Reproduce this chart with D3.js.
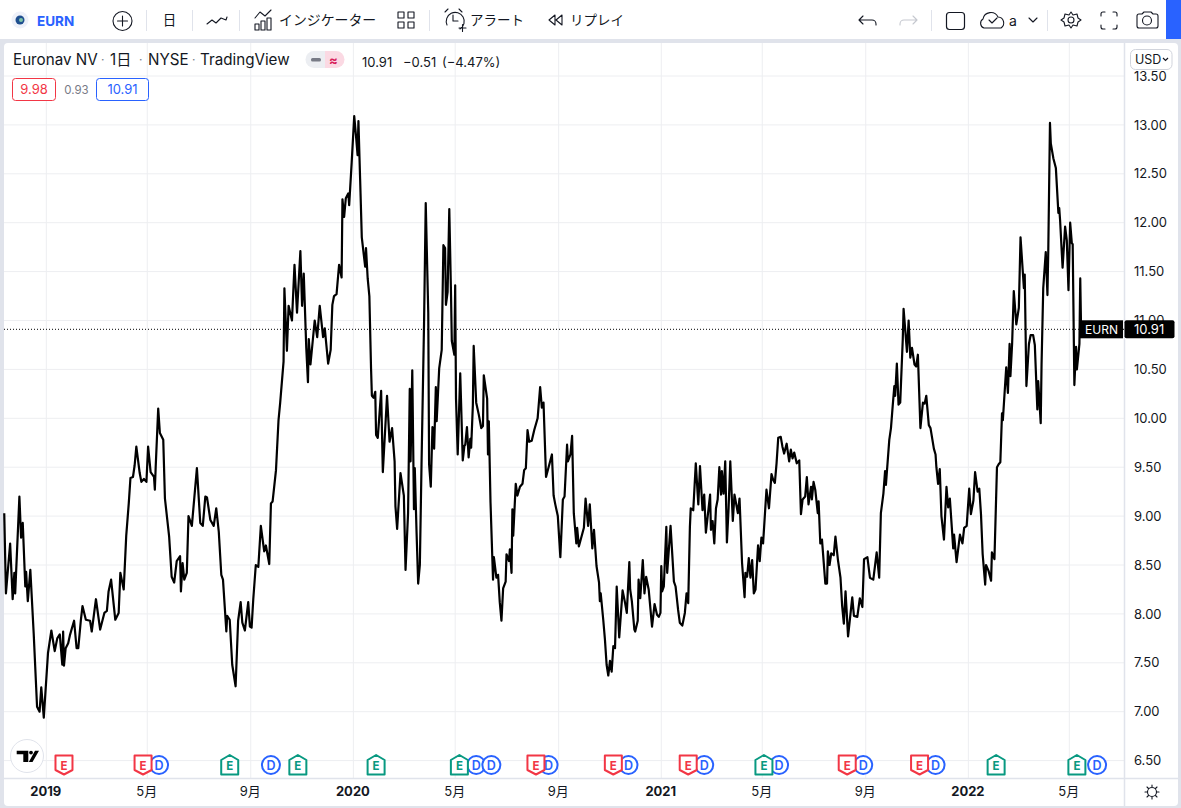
<!DOCTYPE html>
<html>
<head>
<meta charset="utf-8">
<script src="https://cdn.jsdelivr.net/npm/d3@7"></script>
<style>
    html, body { margin: 0; padding: 0; background: #e0e3eb; }
    svg { display: block; font-family: Inter, "Noto Sans CJK JP", sans-serif; }
</style>
</head>
<body>
<svg id="chart" width="1181" height="808"></svg>
<script>
// [calendar days since 2019-01-01, close]
const closeByDay = [
    [-50,9.03],[-48,8.21],[-43,8.72],[-40,8.15],[-38,8.42],[-37,8.21],[-32,9.2],[-30,8.78],[-28,8.93],[-25,8.28],[-24,8.43],[-22,8.13],[-19,8.45],[-15,7.8],[-11,7.05],[-8,7.0],[-6,7.25],[-3,6.94],
    [2,7.6],[6,7.83],[10,7.62],[13,7.75],[16,7.79],[19,7.48],[20,7.82],[21,7.47],[23,7.65],[26,7.7],[28,7.78],[33,7.93],[36,7.65],[38,7.65],[41,7.93],[43,8.08],[47,7.94],[52,7.93],[54,7.82],[59,8.15],
    [64,7.84],[69,8.01],[72,8.03],[74,8.23],[77,8.35],[82,7.94],[86,8.01],[88,8.42],[92,8.25],[95,8.8],[98,9.13],[100,9.39],[103,9.4],[105,9.52],[107,9.71],[111,9.44],[113,9.35],[116,9.38],[119,9.35],
    [121,9.71],[124,9.45],[128,9.4],[129,9.27],[130,9.5],[133,10.1],[135,9.85],[139,9.78],[141,9.18],[146,8.79],[149,8.38],[152,8.32],[155,8.54],[159,8.59],[160,8.23],[162,8.52],[164,8.35],[167,8.42],
    [169,9.0],[173,8.9],[179,9.49],[183,8.93],[186,8.9],[189,9.2],[191,9.19],[195,8.96],[199,8.9],[202,9.08],[205,8.84],[208,8.4],[210,8.35],[214,7.82],[215,7.98],[218,7.94],[221,7.48],[225,7.26],
    [228,7.93],[231,8.12],[233,7.91],[236,7.83],[240,8.12],[242,7.87],[244,7.86],[246,8.15],[249,8.5],[252,8.48],[255,8.9],[259,8.64],[261,8.7],[265,8.51],[267,9.13],[269,9.15],[273,9.47],[276,9.98],
    [278,10.16],[282,10.58],[283,11.33],[286,10.69],[288,11.15],[292,11.0],[295,11.57],[298,11.08],[302,11.71],[304,11.15],[306,11.48],[309,10.72],[311,10.37],[312,10.81],[314,10.55],[319,11.0],[322,10.83],
    [325,11.15],[329,10.83],[331,10.92],[335,10.56],[338,10.7],[340,11.16],[342,11.25],[345,11.27],[348,11.57],[351,11.44],[352,12.24],[354,12.06],[356,12.25],[359,12.3],[360,12.18],[363,12.62],[366,13.09],
    [368,12.9],[370,12.69],[371,13.04],[373,12.45],[375,11.85],[379,11.55],[380,11.74],[382,11.43],[384,11.25],[386,10.51],[387,10.23],[389,10.21],[391,10.27],[392,9.83],[394,9.8],[398,10.28],[400,9.45],
    [405,10.23],[408,9.76],[411,9.9],[414,9.56],[415,9.1],[417,8.87],[421,9.44],[425,9.21],[427,8.45],[430,9.03],[432,10.3],[433,9.56],[435,10.49],[437,9.07],[438,9.49],[440,8.86],[442,8.31],[444,8.5],
    [446,9.53],[449,10.97],[451,12.2],[454,11.08],[455,9.53],[457,9.3],[459,9.91],[461,9.69],[463,10.32],[464,9.97],[467,10.51],[470,10.7],[472,11.77],[474,11.74],[475,11.16],[477,11.29],[479,12.14],
    [481,11.29],[482,10.79],[485,10.65],[486,11.36],[487,10.2],[489,9.63],[492,10.46],[495,9.57],[497,9.72],[498,9.73],[500,9.91],[502,9.6],[504,9.79],[505,9.7],[507,10.13],[508,10.74],[511,10.16],
    [514,10.04],[517,9.9],[519,9.92],[520,10.44],[524,10.2],[525,9.63],[526,9.97],[528,9.14],[531,8.35],[532,8.58],[535,8.37],[537,8.4],[539,8.12],[541,7.93],[543,8.26],[546,8.33],[547,8.61],[550,8.54],
    [551,8.66],[553,8.42],[554,9.07],[555,8.8],[558,9.33],[560,9.21],[563,9.3],[566,9.33],[568,9.47],[570,9.49],[572,9.88],[574,9.76],[577,9.77],[580,9.88],[584,10.0],[587,10.32],[589,10.11],[591,10.16],
    [594,9.4],[601,9.63],[603,9.21],[605,9.12],[608,9.0],[611,8.58],[614,9.17],[616,9.2],[619,9.73],[620,9.56],[623,9.63],[625,9.82],[627,9.03],[630,8.72],[631,8.88],[633,8.69],[639,8.88],[641,9.18],
    [644,8.9],[646,9.12],[649,8.67],[651,8.86],[654,8.49],[657,8.32],[658,8.13],[659,8.21],[662,7.94],[664,7.74],[666,7.48],[668,7.37],[670,7.52],[672,7.41],[674,7.67],[676,7.65],[678,8.28],[681,7.76],
    [685,8.24],[688,8.11],[690,8.01],[693,8.53],[694,8.25],[696,8.13],[699,7.84],[700,7.82],[703,7.93],[704,8.35],[706,8.16],[709,8.55],[711,8.21],[713,8.38],[716,8.25],[720,7.87],[723,8.1],[726,7.99],
    [728,7.97],[730,8.01],[731,8.49],[732,8.23],[734,8.28],[737,8.89],[738,8.42],[742,8.9],[746,8.33],[748,8.28],[751,8.04],[753,7.91],[756,7.88],[759,8.01],[761,8.21],[763,8.11],[765,8.89],[766,9.08],
    [769,9.06],[772,9.54],[775,9.12],[777,9.51],[780,9.06],[782,9.22],[784,8.83],[789,9.22],[790,8.86],[792,8.95],[794,8.72],[796,9.08],[798,9.17],[800,9.5],[802,9.22],[803,9.46],[805,9.23],[807,9.56],
    [809,8.73],[811,9.08],[813,9.56],[816,8.95],[818,9.22],[822,9.03],[824,9.18],[827,8.52],[830,8.17],[831,8.42],[833,8.38],[835,8.57],[837,8.37],[839,8.55],[841,8.21],[843,8.25],[846,8.7],[848,8.54],
    [850,8.78],[852,8.72],[856,9.27],[859,9.08],[862,9.43],[864,9.37],[866,9.34],[868,9.54],[870,9.8],[873,9.81],[875,9.71],[877,9.64],[880,9.74],[883,9.56],[885,9.68],[887,9.59],[889,9.65],[892,9.54],
    [895,9.57],[897,9.02],[899,9.17],[902,9.2],[904,9.4],[906,9.12],[909,9.3],[910,9.17],[912,9.35],[914,9.27],[917,9.03],[918,9.15],[920,8.72],[922,8.76],[926,8.31],[928,8.31],[929,8.64],[931,8.5],
    [933,8.62],[936,8.6],[938,8.79],[941,8.55],[944,8.37],[946,8.08],[948,7.9],[950,8.23],[953,7.77],[958,8.17],[960,7.98],[964,7.97],[967,8.16],[970,8.07],[972,8.56],[976,8.58],[979,8.37],[983,8.35],
    [987,8.63],[990,8.37],[992,9.03],[995,9.23],[997,9.46],[998,9.32],[1002,9.78],[1004,9.9],[1006,10.12],[1008,10.33],[1009,10.23],[1011,10.56],[1013,10.14],[1015,10.16],[1018,10.8],[1019,11.12],
    [1023,10.68],[1025,11.0],[1027,10.62],[1029,10.72],[1032,10.55],[1034,10.53],[1036,10.65],[1039,9.9],[1042,10.16],[1044,10.15],[1046,10.23],[1049,9.93],[1051,9.9],[1055,9.69],[1057,9.63],[1058,9.5],
    [1060,9.33],[1062,9.48],[1064,9.0],[1067,8.76],[1070,9.3],[1072,9.09],[1074,9.18],[1078,8.67],[1079,8.81],[1082,8.53],[1086,8.81],[1089,8.72],[1091,8.88],[1094,8.9],[1097,9.28],[1099,9.02],[1102,9.16],
    [1104,9.45],[1107,9.25],[1109,9.28],[1111,9.02],[1113,8.61],[1116,8.3],[1117,8.5],[1120,8.44],[1123,8.34],[1124,8.63],[1127,8.56],[1130,9.5],[1132,9.53],[1134,9.55],[1136,10.05],[1137,9.98],
    [1141,10.52],[1143,10.26],[1145,10.76],[1146,10.43],[1148,10.76],[1150,11.3],[1153,10.96],[1156,11.13],[1158,11.85],[1162,11.33],[1163,11.47],[1165,10.33],[1168,10.76],[1170,10.85],[1173,10.85],
    [1175,10.75],[1178,10.09],[1179,10.38],[1182,9.95],[1183,10.55],[1185,11.33],[1188,11.7],[1190,11.26],[1191,11.72],[1193,13.02],[1194,12.81],[1197,12.66],[1200,12.56],[1203,12.1],[1204,12.15],
    [1205,12.03],[1208,11.54],[1211,11.96],[1213,11.82],[1215,11.31],[1217,12.0],[1219,11.79],[1220,11.78],[1222,10.34],[1224,10.73],[1225,10.5],[1228,10.76],[1229,11.43],[1230,10.91]
]

const priceTicks = [6.5, 7, 7.5, 8, 8.5, 9, 9.5, 10, 10.5, 11, 11.5, 12, 12.5, 13, 13.5]
const timeTickDates = ['2019-01-01', '2019-05-01', '2019-09-01', '2020-01-01', '2020-05-01', '2020-09-01',
    '2021-01-01', '2021-05-01', '2021-09-01', '2022-01-01', '2022-05-01']
const timeTickLabels = ['2019', '5月', '9月', '2020', '5月', '9月', '2021', '5月', '9月', '2022', '5月']

// earnings and dividend badges, same day numbering as the closes
const earningsMissDays = [21, 115, 582, 674, 763, 952, 1038]
const earningsBeatDays = [218, 299, 392, 491, 853, 1129, 1225]
const dividendDays = [134, 267, 511, 529, 597, 692, 782, 871, 971, 1057, 1249]

const lastClose = 10.91
const legendOhl = ['9.98', '0.93', '10.91']

const fontJp = 'Inter, "Noto Sans CJK JP", sans-serif'
const ink = '#131722', gridColor = '#edeef1', edgeColor = '#e0e3eb'
const red = '#f23645', green = '#089981', blue = '#2962ff'

const svg = d3.select('#chart')
const plot = {left: 4, right: 1124, top: 43, bottom: 778}
const baseDate = d3.timeParse('%Y-%m-%d')('2019-01-01')
const dayToDate = d => d3.timeDay.offset(baseDate, d)

const xScale = d3.scaleTime().domain([dayToDate(-50), dayToDate(1281)]).range([4.25, plot.right])
const yScale = d3.scaleLinear().domain([6.5, 13.5]).range([760.6, 76])
const timeTicks = timeTickDates.map(d3.timeParse('%Y-%m-%d'))

// panels
svg.append('rect').attr('width', 1181).attr('height', 39).attr('fill', '#fff')
svg.append('rect').attr('x', 1166).attr('width', 15).attr('height', 39).attr('fill', blue)
svg.append('rect').attr('x', plot.left).attr('y', plot.top).attr('width', 1174).attr('height', 763).attr('rx', 4).attr('fill', '#fff')

// grid
svg.append('g').selectAll('line').data(priceTicks).enter().append('line')
    .attr('x1', plot.left).attr('x2', plot.right)
    .attr('y1', d => yScale(d)).attr('y2', d => yScale(d))
    .attr('stroke', gridColor)
svg.append('g').selectAll('line').data(timeTicks).enter().append('line')
    .attr('x1', d => xScale(d)).attr('x2', d => xScale(d))
    .attr('y1', plot.top).attr('y2', plot.bottom)
    .attr('stroke', gridColor)

// axes frame
svg.append('line').attr('x1', plot.left).attr('x2', 1178).attr('y1', plot.bottom + 0.5).attr('y2', plot.bottom + 0.5).attr('stroke', edgeColor).attr('stroke-width', 1.5)
svg.append('line').attr('x1', plot.right + 0.5).attr('x2', plot.right + 0.5).attr('y1', plot.top).attr('y2', 806).attr('stroke', edgeColor).attr('stroke-width', 1.5)

// price line
let line = d3.line().x(d => xScale(dayToDate(d[0]))).y(d => yScale(d[1])).curve(d3.curveLinear)
svg.append('path')
    .datum(closeByDay)
    .attr('d', line)
    .attr('fill', 'none')
    .attr('stroke', '#000')
    .attr('stroke-width', 2.2)
    .attr('stroke-linejoin', 'round')

// last price dotted line
svg.append('line')
    .attr('x1', plot.left).attr('x2', plot.right)
    .attr('y1', yScale(lastClose)).attr('y2', yScale(lastClose))
    .attr('stroke', '#000').attr('stroke-width', 1).attr('stroke-dasharray', '1 2')

// y axis
let yAxis = svg.append('g')
    .attr('transform', 'translate(' + plot.right + ',0)')
    .call(d3.axisRight(yScale).tickValues(priceTicks).tickSize(0).tickPadding(10).tickFormat(d3.format('.2f')))
yAxis.select('.domain').remove()
yAxis.selectAll('text').attr('font-size', 13).attr('font-family', fontJp).attr('fill', ink)

// x axis
let xAxis = svg.append('g')
    .attr('transform', 'translate(0,' + plot.bottom + ')')
    .call(d3.axisBottom(xScale).tickValues(timeTicks).tickSize(0).tickPadding(9)
        .tickFormat((d, i) => timeTickLabels[i]))
xAxis.select('.domain').remove()
xAxis.selectAll('text')
    .attr('font-size', 13).attr('font-family', fontJp).attr('fill', ink)
    .attr('dx', -1)
    .attr('font-weight', (d, i) => timeTickLabels[i].length === 4 ? 700 : 400)

// badges
let badgeY = 765
svg.append('g').selectAll('circle').data(dividendDays).enter().append('g')
    .attr('transform', d => 'translate(' + xScale(dayToDate(d)) + ',' + badgeY + ')')
    .call(g => g.append('circle').attr('r', 9).attr('fill', '#fff').attr('stroke', blue).attr('stroke-width', 2))
    .call(g => g.append('text').text('D').attr('text-anchor', 'middle').attr('y', 4.5)
        .attr('font-size', 12.5).attr('font-weight', 600).attr('fill', blue))

function drawEarnings(days, color, shape) {
    svg.append('g').selectAll('g').data(days).enter().append('g')
        .attr('transform', d => 'translate(' + xScale(dayToDate(d)) + ',' + badgeY + ')')
        .call(g => g.append('path').attr('d', shape).attr('fill', '#fff').attr('stroke', color)
            .attr('stroke-width', 2).attr('stroke-linejoin', 'round'))
        .call(g => g.append('text').text('E').attr('text-anchor', 'middle').attr('y', 4.5)
            .attr('font-size', 11.5).attr('font-weight', 700).attr('fill', color))
}
drawEarnings(earningsMissDays, red, 'M-8.5,-9.5H8.5V5L0,9.5L-8.5,5Z')
drawEarnings(earningsBeatDays, green, 'M-8.5,9.5H8.5V-5L0,-10L-8.5,-5Z')

// TradingView mark
let tvMark = svg.append('g').attr('transform', 'translate(27,756)')
tvMark.append('circle').attr('r', 16.5).attr('fill', '#fff').attr('stroke', edgeColor)
tvMark.append('path').attr('d', 'M-10.3,-5.3H1.3V6H-3.7V-1.7H-10.3Z M12,-5.3L5.5,6H1.8L8,-5.3Z').attr('fill', '#000')
tvMark.append('circle').attr('cx', 4).attr('cy', -3.4).attr('r', 1.9).attr('fill', '#000')

// price tag
svg.append('rect').attr('x', 1080).attr('y', yScale(lastClose) - 9).attr('width', 43).attr('height', 18).attr('fill', '#000')
svg.append('text').text('EURN').attr('x', 1101.5).attr('y', yScale(lastClose) + 4.5).attr('text-anchor', 'middle')
    .attr('font-size', 12).attr('fill', '#fff')
svg.append('rect').attr('x', 1124.5).attr('y', yScale(lastClose) - 9).attr('width', 50).attr('height', 18).attr('rx', 2).attr('fill', '#000')
svg.append('text').text(d3.format('.2f')(lastClose)).attr('x', 1134).attr('y', yScale(lastClose) + 4.5)
    .attr('font-size', 13).attr('fill', '#fff')

// legend
function label(txt, x, y, size, color, anchor) {
    return svg.append('text').text(txt).attr('x', x).attr('y', y).attr('font-size', size)
        .attr('fill', color || ink).attr('text-anchor', anchor || 'start')
}
label('Euronav NV', 13, 65, 15.2)
label('·', 101, 64, 12, '#787b86')
label('1日', 110, 65, 15.2)
label('·', 139, 64, 12, '#787b86')
label('NYSE', 148, 65, 15.2)
label('·', 192, 64, 12, '#787b86')
label('TradingView', 200, 65, 15.2)
svg.append('path').attr('d', 'M325,51H314a8.5,8.5 0 0 0 0,17H325Z').attr('fill', '#eceef2')
svg.append('path').attr('d', 'M325,51H336a8.5,8.5 0 0 1 0,17H325Z').attr('fill', '#fbd9e3')
svg.append('rect').attr('x', 311).attr('y', 58).attr('width', 10).attr('height', 3.5).attr('rx', 1.5).attr('fill', '#787b86')
label('≈', 333.5, 65, 13, '#d81e5b', 'middle').attr('font-weight', 700)
label('10.91', 362, 67, 13)
label('−0.51', 403, 67, 13)
label('(−4.47%)', 442, 67, 13)

svg.append('rect').attr('x', 12.5).attr('y', 78.5).attr('width', 43).attr('height', 22).attr('rx', 3).attr('fill', '#fff').attr('stroke', red)
label(legendOhl[0], 34, 94, 13, red, 'middle')
label(legendOhl[1], 76.5, 94, 11.5, '#787b86', 'middle')
svg.append('rect').attr('x', 96.5).attr('y', 78.5).attr('width', 52).attr('height', 22).attr('rx', 3).attr('fill', '#fff').attr('stroke', blue)
label(legendOhl[2], 122.5, 94, 13, blue, 'middle')

// currency button
svg.append('rect').attr('x', 1130.5).attr('y', 49.5).attr('width', 41.5).attr('height', 20).attr('rx', 5).attr('fill', '#fff').attr('stroke', '#d1d4dc')
label('USD', 1135, 64, 12.5)
svg.append('path').attr('d', 'M1163,58l2.5,2.5l2.5,-2.5').attr('fill', 'none').attr('stroke', ink).attr('stroke-width', 1.2)

// toolbar
svg.append('circle').attr('cx', 20).attr('cy', 20).attr('r', 8.5).attr('fill', '#eef1f9')
svg.append('circle').attr('cx', 20).attr('cy', 20).attr('r', 4.5).attr('fill', '#1f4f8f')
svg.append('circle').attr('cx', 21).attr('cy', 20).attr('r', 2).attr('fill', '#7fc4a8')
label('EURN', 37, 26, 13.5, blue).attr('font-weight', 700)
label('日', 169.5, 25, 13.5, ink, 'middle')
label('インジケーター', 279, 25, 13.9)
label('アラート', 470, 25, 13.5)
label('リプレイ', 570, 25, 13.5)
label('a', 1013, 26, 14, ink, 'middle')

svg.append('g').selectAll('line').data([146.5, 192.5, 239.5, 429.5, 931.5, 1047.5]).enter().append('line')
    .attr('x1', d => d).attr('x2', d => d).attr('y1', 10).attr('y2', 31).attr('stroke', edgeColor)

function icon(d, color) {
    svg.append('path').attr('d', d).attr('fill', 'none').attr('stroke', color || ink)
        .attr('stroke-width', 1.1).attr('stroke-linecap', 'round').attr('stroke-linejoin', 'round')
}
icon('M113,21a9.5,9.5 0 1 0 19,0a9.5,9.5 0 1 0 -19,0 M117.5,21H127.5 M122.5,16V26')
icon('M207,24l5,-4l4,3l5,-5l5,2l1,-3')
icon('M255,30V24H259V30H255 M261,30V21H265V30H261 M267,30V18H271V30H267 M255,18l5,-6l5,4l6,-6')
icon('M398,12h6v6h-6z M408,12h6v6h-6z M398,22h6v6h-6z M408,22h6v6h-6z')
icon('M447,25a9,9 0 1 1 13,4 M453,15V21H458 M445,12l3,-3 M462,12l-3,-3 M459,28h7 M462.500,24.500v7')
icon('M555,15l-6,5l6,5z M562,15l-6,5l6,5z')
icon('M863,16l-4,4l4,4 M859,20H872a4,4 0 0 1 4,4v1')
icon('M913,16l4,4l-4,4 M917,20H904a4,4 0 0 0 -4,4v1', '#c5c8cf')
svg.append('rect').attr('x', 946.5).attr('y', 12.5).attr('width', 18).attr('height', 17).attr('rx', 3).attr('fill', 'none').attr('stroke', ink).attr('stroke-width', 1.2)
icon('M988,28h-4a5,5 0 0 1 -1,-9a8,8 0 0 1 15,-2a6,6 0 0 1 3,11z M989,20l3,3l5,-5')
icon('M1029,18l4,4l4,-4')
icon('M1071,12l2,3l4,-1l1,4l3,2l-3,2l-1,4l-4,-1l-2,3l-2,-3l-4,1l-1,-4l-3,-2l3,-2l1,-4l4,1z M1068,20a3,3 0 1 0 6,0a3,3 0 1 0 -6,0')
icon('M1101,16v-2a2,2 0 0 1 2,-2h2 M1113,12h2a2,2 0 0 1 2,2v2 M1117,25v2a2,2 0 0 1 -2,2h-2 M1105,29h-2a2,2 0 0 1 -2,-2v-2')
icon('M1137,16a2,2 0 0 1 2,-2h3l2,-2h7l2,2h3a2,2 0 0 1 2,2v10a2,2 0 0 1 -2,2H1139a2,2 0 0 1 -2,-2z M1142.500,20.500a4.500,4.500 0 1 0 9,0a4.500,4.500 0 1 0 -9,0')

// sun icon on the time axis corner
icon('M1147.500,792a4.500,4.500 0 1 0 9,0a4.500,4.500 0 1 0 -9,0 M1152,785v2 M1152,797v2 M1145,792h2 M1157,792h2 M1147,787l1.500,1.500 M1155.500,795.500l1.500,1.500 M1157,787l-1.500,1.500 M1148.500,795.500l-1.500,1.500')
</script>
</body>
</html>
